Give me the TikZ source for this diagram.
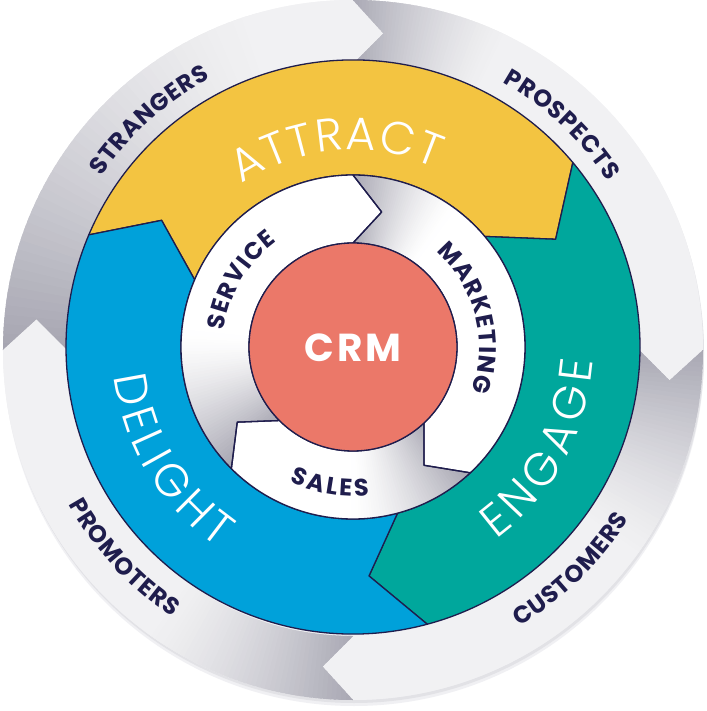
\documentclass[tikz,border=0pt]{standalone}
\usepackage{fontspec}
\usetikzlibrary{decorations.text}
\newfontfamily\pop{Poppins}
\newfontfamily\poplight{Poppins Light}
\definecolor{navy}{HTML}{1F1D4D}
\definecolor{yellowc}{HTML}{F3C441}
\definecolor{tealc}{HTML}{00A79C}
\definecolor{bluec}{HTML}{00A1DA}
\definecolor{coral}{HTML}{EB7869}
\definecolor{lightg}{HTML}{F1F1F3}
\definecolor{outshade}{HTML}{A4A3AF}
\definecolor{innshade}{HTML}{A3A2AE}
\definecolor{shadowc}{HTML}{E2E2E6}
% tail angle, head angle, r in, r out, tail notch depth, head tip depth
\newcommand\arrowshape[6]{(#1:#4) arc[start angle=#1, end angle=#2, radius=#4] -- ({#2-#6}:{(#3+#4)/2}) -- (#2:#3) arc[start angle=#2, end angle=#1, radius=#3] -- ({#1-#5}:{(#3+#4)/2}) -- cycle}
% ... plus base colour, shadow colour, span of the shadow (degrees)
\newcommand\shadedarrow[9]{%
  \begin{scope}
    \clip \arrowshape{#1}{#2}{#3}{#4}{#5}{#6};
    \fill[#7] (0,0) circle[radius=#4+3];
    \foreach \k in {0,...,47}{%
      \pgfmathsetmacro\aa{#1+2-\k*(#9)/48}%
      \pgfmathsetmacro\bb{\aa-1.7*(#9)/48}%
      \pgfmathsetmacro\pp{100*(1-\k/48)^1.4}%
      \fill[#8!\pp!#7] (0,0) -- (\aa:#4+6) arc[start angle=\aa, end angle=\bb, radius=#4+6] -- cycle;
    }
  \end{scope}}
\tikzset{
  outline/.style={draw=navy, line width=1.3, line join=round},
  arctext/.style={decorate, decoration={text along path, text align=center, text color=#1}},
}
\begin{document}
\begin{tikzpicture}[x=1pt,y=1pt]
\useasboundingbox (-353,-364) rectangle (353,347);
\fill[white] (-353,-364) rectangle (353,347);
% soft shadow and outer disc
\fill[shadowc!50!white] (1,-9) circle[radius=350];
\fill[shadowc] (1,-6) circle[radius=350];
\begin{scope}[shift={(0,-3)}]
  \fill[lightg] (0,0) circle[radius=350];
  \shadedarrow{180}{90}{286}{350}{5.5}{5.5}{lightg}{outshade}{75}
  \shadedarrow{90}{0}{286}{350}{5.5}{5.5}{lightg}{outshade}{28}
  \shadedarrow{0}{-90}{286}{350}{5.5}{5.5}{lightg}{outshade}{38}
  \shadedarrow{-90}{-180}{286}{350}{5.5}{5.5}{lightg}{outshade}{38}
\end{scope}
% coloured ring
\path[fill=yellowc, outline] \arrowshape{157}{40}{172}{287}{10.5}{12};
\path[fill=tealc, outline] \arrowshape{40}{-75}{172}{287}{12}{11};
\path[fill=bluec, outline] \arrowshape{-75}{-203}{172}{287}{11}{10.5};
% inner ring
\shadedarrow{225}{90}{104}{172}{12}{12}{white}{innshade}{52}
\shadedarrow{90}{-47}{104}{172}{12}{12}{white}{innshade}{38}
\shadedarrow{-47}{-135}{104}{172}{12}{12}{white}{innshade}{45}
\path[outline] \arrowshape{225}{90}{104}{172}{12}{12};
\path[outline] \arrowshape{90}{-47}{104}{172}{12}{12};
\path[outline] \arrowshape{-47}{-135}{104}{172}{12}{12};
% centre
\node[circle, fill=coral, outline, minimum size=208, inner sep=0] (crmc) at (0,0) {};
\node[font=\pop\bfseries\fontsize{39}{39}\selectfont, text=white] (crm) at (0,-1) {C\kern3pt R\kern3pt M};
% big stage words
\path[arctext=white, decoration={text={|\poplight\fontsize{46}{46}\selectfont\kern1.5pt|ATTRACT}}] (165:197) arc[start angle=165, end angle=25, radius=197];
\path[arctext=white, decoration={text={|\poplight\fontsize{46}{46}\selectfont\kern6pt|ENGAGE}}] (-99:240) arc[start angle=-99, end angle=41, radius=240];
\path[arctext=white, decoration={text={|\poplight\fontsize{46}{46}\selectfont\kern5pt|DELIGHT}}] (141:241) arc[start angle=141, end angle=281, radius=241];
% inner words
\path[arctext=navy, decoration={text={|\pop\bfseries\fontsize{24}{24}\selectfont\kern1.2pt|SERVICE}}] (219.5:130) arc[start angle=219.5, end angle=79.5, radius=130];
\path[arctext=navy, decoration={text={|\pop\bfseries\fontsize{24}{24}\selectfont\kern1.2pt|MARKETING}}] (84.5:126) arc[start angle=84.5, end angle=-55.5, radius=126];
\path[arctext=navy, decoration={text={|\pop\bfseries\fontsize{24}{24}\selectfont\kern2.5pt|SALES}}] (-170:149) arc[start angle=-170, end angle=-30, radius=149];
% outer words
\path[arctext=navy, decoration={text={|\pop\bfseries\fontsize{24}{24}\selectfont\kern0.8pt|STRANGERS}}] (177:304) arc[start angle=177, end angle=87, radius=304];
\path[arctext=navy, decoration={text={|\pop\bfseries\fontsize{24}{24}\selectfont\kern0.8pt|PROSPECTS}}] (91.8:304) arc[start angle=91.8, end angle=1.8, radius=304];
\path[arctext=navy, decoration={text={|\pop\bfseries\fontsize{24}{24}\selectfont\kern0.8pt|CUSTOMERS}}] (-90.7:325) arc[start angle=-90.7, end angle=-0.7, radius=325];
\path[arctext=navy, decoration={text={|\pop\bfseries\fontsize{24}{24}\selectfont\kern0.8pt|PROMOTERS}}] (177.5:325) arc[start angle=177.5, end angle=267.5, radius=325];
\end{tikzpicture}
\end{document}
